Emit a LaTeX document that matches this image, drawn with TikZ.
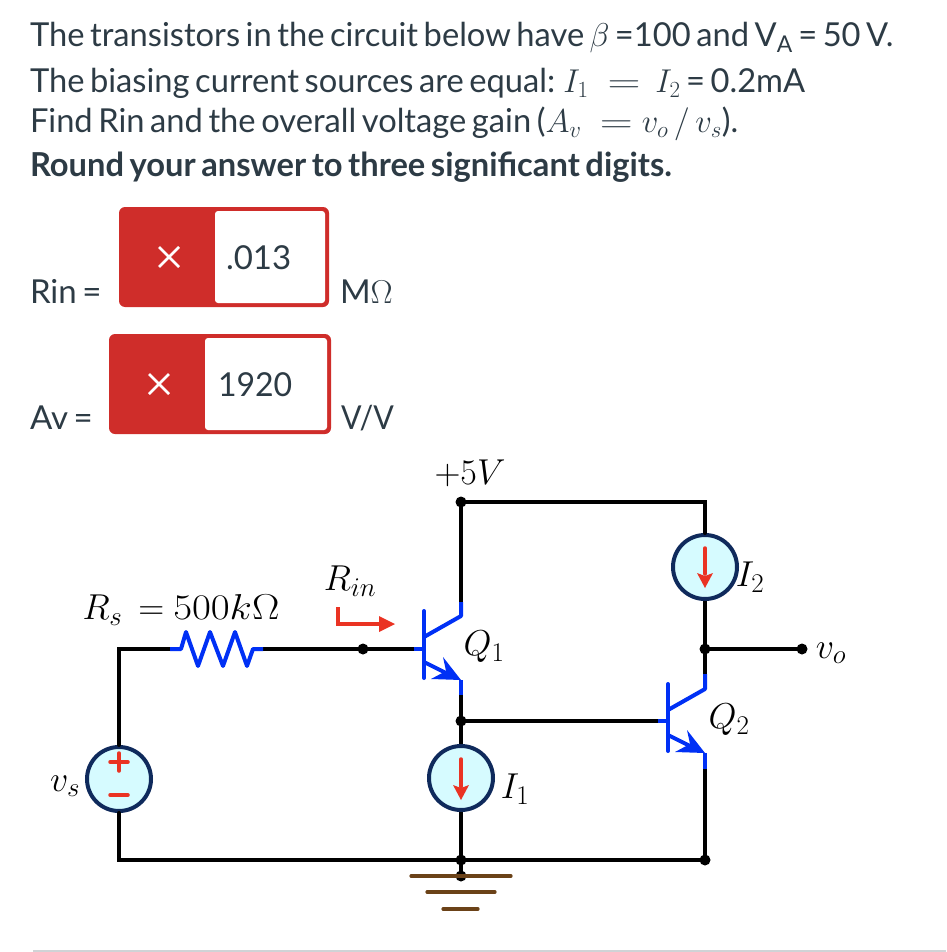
\documentclass[tikz,border=0pt]{standalone}
\usepackage{fix-cm}
\usepackage[no-math]{fontspec}
\usepackage{graphicx}
\usepackage{amsmath}
\setmainfont{Lato}
\DeclareMathSizes{36}{36}{27}{20}
\usetikzlibrary{arrows.meta}
\definecolor{txt}{HTML}{2D3B45}
\definecolor{wrong}{HTML}{CF2D2A}
\definecolor{bjt}{HTML}{0030F5}
\definecolor{srcfill}{HTML}{D6FBFF}
\definecolor{srcline}{HTML}{0F2A5C}
\definecolor{redarrow}{HTML}{EA3323}
\definecolor{gnd}{HTML}{6B4218}
\definecolor{rule}{HTML}{D0D3D6}
\newcommand{\wideeq}{\mathrel{\scalebox{1.4}[1]{$=$}}}
\tikzset{
 base text/.style={anchor=base west,inner sep=0pt,outer sep=0pt,text=txt,font=\fontsize{33}{33}\selectfont},
 math label/.style={inner sep=0pt,outer sep=0pt,text=black,font=\fontsize{36}{36}\selectfont},
 wire/.style={line width=4pt,black},
 blue part/.style={line width=4pt,bjt,line join=round},
 gbar/.style={line width=3.2pt,gnd,line cap=round},
 jdot/.style={circle,fill=black,inner sep=0pt,minimum size=11pt},
 source/.style={circle,draw=srcline,fill=srcfill,line width=4pt,minimum size=64pt,inner sep=0pt},
 redline/.style={line width=3.5pt,redarrow},
 redhead/.style={fill=redarrow,draw=none},
 xmark/.style={white,line width=2.5pt},
}
\begin{document}
\begin{tikzpicture}[x=1pt,y=-1pt]
\useasboundingbox (0,0) rectangle (946,952);
% question text
\node[base text] (l1) at (30,47) {\scalebox{0.99}[1]{\spaceskip=.17em The transistors in the circuit below have $\beta$\,=100 and V\textsubscript{A} = 50 V.}};
\node[base text] (l2) at (30,93) {\scalebox{0.99}[1]{\spaceskip=.17em The biasing current sources are equal: $I_1\hspace{10pt}\wideeq\hspace{6pt} I_2$ = 0.2mA}};
\node[base text] (l3) at (30,133) {\scalebox{0.99}[1]{\spaceskip=.17em Find Rin and the overall voltage gain ($A_v\;\wideeq v_o\,/\,v_s$).}};
\node[base text,font=\fontsize{33}{33}\selectfont\bfseries] (l4) at (30,177) {\scalebox{0.99}[1]{\spaceskip=.17em Round your answer to three significant digits.}};
% answers
\node[base text] (rinl) at (30,303) {\spaceskip=.17em Rin =};
\node[base text] (avl) at (30,429) {\spaceskip=.17em Av =};
\fill[wrong,rounded corners=6pt] (119,207) rectangle (329,307);
\fill[white,rounded corners=3pt] (215,211) rectangle (325,303);
\fill[wrong,rounded corners=6pt] (109,334) rectangle (331,434);
\fill[white,rounded corners=3pt] (205,338) rectangle (327,430);
\draw[xmark] (159,247) -- (179,267) (179,247) -- (159,267);
\draw[xmark] (149,374) -- (169,394) (169,374) -- (149,394);
\node[base text] (a1) at (226,269) {.013};
\node[base text] (a2) at (218,396) {\scalebox{0.97}[1]{1920}};
\node[base text] (u1) at (340,303) {M$\Omega$};
\node[base text] (u2) at (341,429) {\scalebox{0.92}[1]{V/V}};
% circuit coordinates
\coordinate (top) at (461,502);
\coordinate (topr) at (705,502);
\coordinate (q1c) at (461,602);
\coordinate (q1cb) at (461,616);
\coordinate (q1bj) at (424,637);
\coordinate (q1ej) at (424,662);
\coordinate (q1eb) at (461,680);
\coordinate (q1e) at (461,695);
\coordinate (q1b) at (414,649);
\coordinate (q1bb) at (424,649);
\coordinate (q2c) at (705,674);
\coordinate (q2cb) at (705,689);
\coordinate (q2bj) at (668,710);
\coordinate (q2ej) at (668,735);
\coordinate (q2eb) at (705,753);
\coordinate (q2e) at (705,769);
\coordinate (q2b) at (658,721);
\coordinate (q2bb) at (668,721);
\coordinate (rl) at (170,649);
\coordinate (rr) at (263,649);
\coordinate (cornertl) at (119,649);
\coordinate (cornerbl) at (119,860);
% dots
\node[jdot] (d1) at (top) {};
\node[jdot] (d2) at (363,649) {};
\node[jdot] (d3) at (461,721) {};
\node[jdot] (d4) at (705,649) {};
\node[jdot] (d5) at (802,649) {};
\node[jdot] (d6) at (461,860) {};
\node[jdot] (d7) at (705,860) {};
\node[jdot] (d8) at (461,876) {};
% sources
\node[source] (i2) at (705,567) {};
\node[source] (i1) at (461,778) {};
\node[source] (vs) at (119,779) {};
% wires
\draw[wire,line cap=round] (i2.north) -- (topr) -- (top.center) -- (q1c);
\draw[wire] (i2.south) -- (q2c);
\draw[wire] (d4.center) -- (d5.center);
\draw[wire] (q1e) -- (i1.north);
\draw[wire] (d3.center) -- (q2b);
\draw[wire] (i1.south) -- (d8.center);
\draw[wire] (q2e) -- (d7.center);
\draw[wire,line cap=round] (vs.north) -- (cornertl) -- (rl);
\draw[wire] (rr) -- (q1b);
\draw[wire,line cap=round] (vs.south) -- (cornerbl) -- (d7.center);
% BJT Q1
\draw[blue part] (q1c) -- (q1cb) -- (q1bj);
\draw[blue part] (q1b) -- (q1bb);
\draw[blue part,line cap=round] (424,611) -- (424,678);
\draw[blue part] (q1ej) -- (452,676);
\fill[bjt] (q1eb) -- (443,657) -- (446,671) -- (431,679) -- cycle;
\draw[blue part] (q1eb) -- (q1e);
% BJT Q2
\draw[blue part] (q2c) -- (q2cb) -- (q2bj);
\draw[blue part] (q2b) -- (q2bb);
\draw[blue part,line cap=round] (668,684) -- (668,751);
\draw[blue part] (q2ej) -- (696,749);
\fill[bjt] (q2eb) -- (687,730) -- (690,744) -- (675,752) -- cycle;
\draw[blue part] (q2eb) -- (q2e);
% resistor
\draw[blue part] (rl) -- (181,649) -- (186,632) -- (198,666) -- (210,632) -- (223,666) -- (235,632) -- (247,666) -- (253,649) -- (rr);
% source symbols
\draw[redline,line cap=round] (705,548) -- (705,574);
\fill[redhead] (697,573) -- (705,576) -- (713,573) -- (705,588) -- cycle;
\draw[redline,line cap=round] (461,759) -- (461,787);
\fill[redhead] (453,785) -- (461,788) -- (469,785) -- (461,800) -- cycle;
\draw[redline,line cap=round] (110,762) -- (128,762) (119,753) -- (119,771);
\draw[redline,line cap=round] (110,795) -- (128,795);
% Rin arrow
\draw[redline] (338,607) -- (338,624) -- (381,624);
\fill[redhead] (379,616) -- (395,624) -- (379,632) -- cycle;
% ground
\draw[gbar] (411,876) -- (511,876);
\draw[gbar] (427,892) -- (495,892);
\draw[gbar] (443,909) -- (478,909);
% rule
\draw[rule,line width=1.5pt] (33,951) -- (946,951);
% labels
\node[math label] (plus) at (470,473) {$+5V$};
\node[math label] (rinlab) at (350,581) {$R_{in}$};
\node[math label] (rslab) at (181,610) {$R_s\,=$\hspace{9pt}\scalebox{1.14}[1]{$500k\Omega$}};
\node[math label] (vslab) at (65,786) {$v_s$};
\node[math label] (q1lab) at (484,647) {$Q_1$};
\node[math label] (q2lab) at (729,720) {$Q_2$};
\node[math label] (i1lab) at (515,789) {$I_1$};
\node[math label] (i2lab) at (750,577) {$I_2$};
\node[math label] (volab) at (831,653) {$v_o$};
\end{tikzpicture}
\end{document}
